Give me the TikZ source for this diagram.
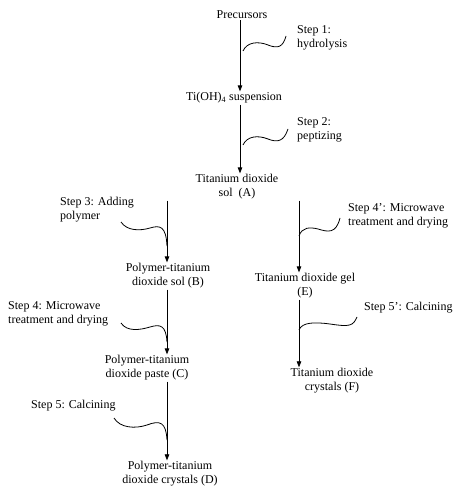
\documentclass[tikz,border=0pt]{standalone}
\usepackage{fontspec}
\setmainfont{Liberation Serif}
\usetikzlibrary{arrows.meta}

\begin{document}
\begin{tikzpicture}[x=1pt,y=-1pt,
  every node/.style={font=\fontsize{12}{14}\selectfont,inner sep=1pt},
  stage/.style={align=center},
  steplbl/.style={align=left,anchor=west},
  flow/.style={line width=0.8pt,-{Triangle[length=6pt,width=4.5pt]}},
  wave/.style={line width=0.8pt}]
\useasboundingbox (0,0) rectangle (474,502);
% main chain
\node[stage] (n0) at (242,15) {Precursors};
\node[stage] (n1) at (234,98) {Ti(OH)\textsubscript{4} suspension};
\node[stage] (nA) at (237,187) {Titanium dioxide\\sol\ \ (A)};
\node[stage] (nB) at (168,276) {Polymer-titanium\\dioxide sol (B)};
\node[stage] (nC) at (147,368) {Polymer-titanium\\dioxide paste (C)};
\node[stage] (nD) at (170,474) {Polymer-titanium\\dioxide crystals (D)};
\node[stage] (nE) at (305,286) {Titanium dioxide gel\\(E)};
\node[stage] (nF) at (332,381) {Titanium dioxide\\crystals (F)};
% step labels
\node[steplbl] (s1) at (296,38) {Step 1:\\hydrolysis};
\node[steplbl] (s2) at (296,130) {Step 2:\\peptizing};
\node[steplbl] (s3) at (59,210) {Step 3: Adding\\polymer};
\node[steplbl] (s4p) at (347,216) {Step 4': Microwave\\treatment and drying};
\node[steplbl] (s4) at (7,314) {Step 4: Microwave\\treatment and drying};
\node[steplbl] (s5p) at (363,308) {Step 5': Calcining};
\node[steplbl] (s5) at (30,406) {Step 5: Calcining};
% arrow columns
\coordinate (cM) at (240,0);
\coordinate (cL) at (167,0);
\coordinate (cR) at (299,0);
\draw[flow] (n0.south -| cM) -- (n1.north -| cM);
\draw[flow] (n1.south -| cM) -- (nA.north -| cM);
\draw[flow] (nA.south -| cL) -- (nB.north -| cL);
\draw[flow] (nA.south -| cR) -- (nE.north -| cR);
\draw[flow] (nB.south -| cL) -- (nC.north -| cL);
\draw[flow] (nE.south -| cR) -- (nF.north -| cR);
\draw[flow] (nC.south -| cL) -- (nD.north -| cL);
% wavy pointers
\draw[wave] (243,51) .. controls (247,42) and (258,41) .. (268,45) .. controls (278,49) and (283,47) .. (286,36);
\draw[wave] (243,145) .. controls (247,136) and (258,135) .. (268,139) .. controls (278,143) and (284,141) .. (288,129);
\draw[wave] (121,222) .. controls (127,231) and (140,231) .. (150,228) .. controls (160,225) and (166,226) .. (167,246);
\draw[wave] (299,236) .. controls (302,227) and (310,227) .. (318,229) .. controls (328,232) and (336,234) .. (340,218);
\draw[wave] (121,323) .. controls (127,332) and (140,330) .. (150,327) .. controls (160,324) and (166,325) .. (167,342);
\draw[wave] (299,330) .. controls (302,322) and (315,322) .. (330,324) .. controls (350,327) and (353,326) .. (357,317);
\draw[wave] (114,418) .. controls (120,428) and (135,429) .. (147,425) .. controls (160,420) and (166,422) .. (167,440);
\end{tikzpicture}
\end{document}
